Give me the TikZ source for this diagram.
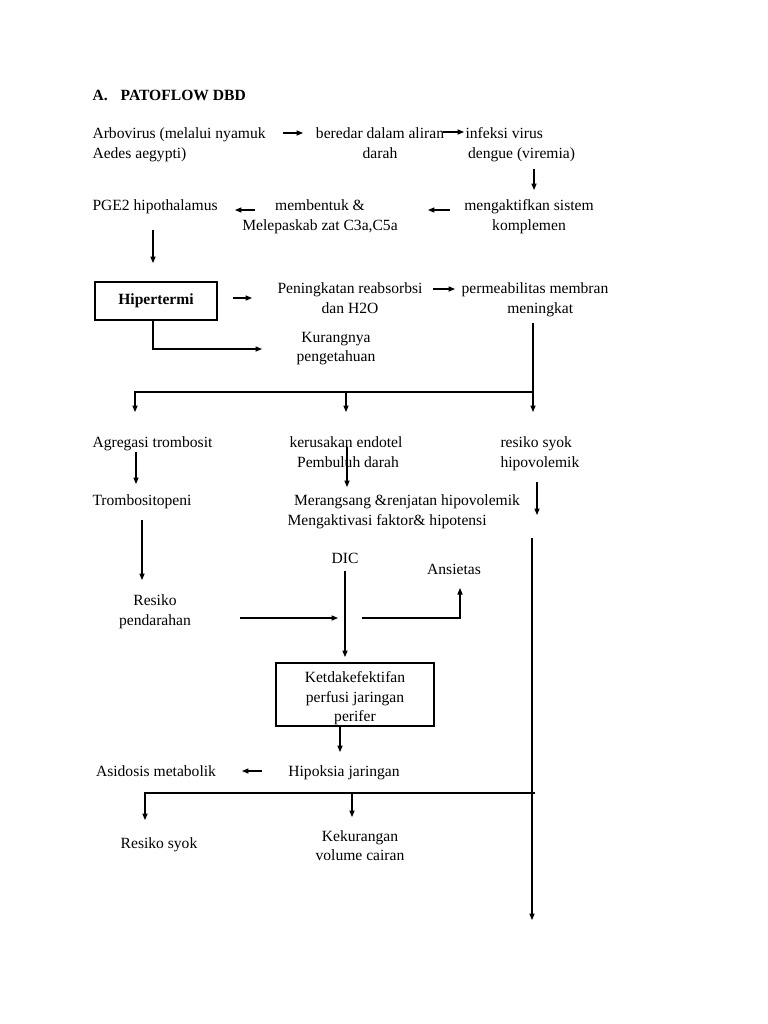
\documentclass[tikz,border=0pt]{standalone}
\usepackage{fontspec}
\setmainfont{Liberation Serif}
\usetikzlibrary{arrows,arrows.meta,calc}

\begin{document}
\begin{tikzpicture}[x=0.77pt,y=-0.77pt,>={Triangle[length=5pt,width=4pt]},line width=0.8pt,
  txt/.style={inner sep=0pt,font=\fontsize{12}{15}\selectfont,
    execute at begin node=\strut,execute at end node=\strut},
  boxthick/.style={txt,draw,line width=1.6pt,minimum width=94pt,minimum height=29.3pt}]
\fill[white] (0,0) rectangle (768,1024);
\useasboundingbox (0,0) rectangle (768,1024);

\node[txt,anchor=west,font=\fontsize{12}{15}\selectfont\bfseries] (title) at (92,97) {A.\hspace*{10pt}PATOFLOW DBD};

\node[txt,anchor=west,align=left] (arbo) at (92,146) {Arbovirus (melalui nyamuk\\Aedes aegypti)};
\node[txt,align=center] (beredar) at (380,146) {beredar dalam aliran\\darah};
\node[txt,anchor=west,align=left] (infeksi) at (465,146) {infeksi virus\\\hspace*{2pt}dengue (viremia)};

\node[txt,anchor=west] (pge) at (92,207) {PGE2 hipothalamus};
\node[txt,align=center] (membentuk) at (320,218) {membentuk \&\\Melepaskab zat C3a,C5a};
\node[txt,align=center] (kompl) at (529,218) {mengaktifkan sistem\\komplemen};

\node[boxthick,font=\fontsize{12}{15}\selectfont\bfseries] (hiper) at (156,301) {Hipertermi};
\node[txt,align=center] (penin) at (350,301) {Peningkatan reabsorbsi\\dan H2O};
\node[txt,align=center] (perm) at (535,301) {permeabilitas membran\\\hspace*{8pt}meningkat};
\node[txt,align=center] (kurang) at (336,350) {Kurangnya\\pengetahuan};

\node[txt,anchor=west] (agreg) at (92,444) {Agregasi trombosit};
\node[txt,align=center] (kerus) at (346,455) {kerusakan endotel\\\hspace*{3pt}Pembuluh darah};
\node[txt,anchor=west,align=left] (syok) at (500,455) {resiko syok\\hipovolemik};

\node[txt,anchor=west] (tromb) at (92,502) {Trombositopeni};
\node[txt,anchor=west,align=left] (meran) at (287,513) {\hspace*{5pt}Merangsang \&renjatan hipovolemik\\Mengaktivasi faktor\& hipotensi};

\node[txt] (dic) at (345,560) {DIC};
\node[txt] (ans) at (454,571) {Ansietas};
\node[txt,align=center] (resiko) at (155,613) {Resiko\\pendarahan};
\node[txt,align=center] (ket) at (355,699.5) {Ketdakefektifan\\perfusi jaringan\\perifer};
\draw[line width=1pt] ([shift={(-79,-36.5)}]ket.center) rectangle ([shift={(79,26.5)}]ket.center);

\node[txt] (asid) at (156,773) {Asidosis metabolik};
\node[txt] (hipok) at (344,773) {Hipoksia jaringan};
\node[txt] (kecil) at (159,845) {Resiko syok};
\node[txt,align=center] (kekur) at (360,848.5) {Kekurangan\\volume cairan};

% baris atas
\draw[->] ([shift={(191,-13)}]arbo.west) -- ++(20,0);
\draw[->] ([shift={(63,-14)}]beredar.center) -- ++(21,0);
\draw[->] ([shift={(69,23)}]infeksi.west) -- ++(0,21);
\draw[<-] ([shift={(143,3)}]pge.west) -- ++(20,0);
\draw[<-] ([shift={(108,-8)}]membentuk.center) -- ++(22,0);
\draw[->] ([shift={(61,23)}]pge.west) -- ++(0,33);

% hipertermi
\draw[->] ([shift={(77,-3)}]hiper.center) -- ++(19,0);
\draw[->] ([shift={(83,-12)}]penin.center) -- ++(22,0);
\draw[->] ([xshift=-2.3pt]hiper.south) |- ([shift={(-74,-1)}]kurang.center);

% percabangan
\coordinate (fork) at ([shift={(-2,91)}]perm.center);
\draw[->] ([shift={(-2,22)}]perm.center) -- ++(0,89);
\draw[->] (fork) -| ([shift={(43,-32)}]agreg.west);
\draw[->] (fork -| kerus.center) -- ++(0,20);

\draw[->] ([shift={(44,8)}]agreg.west) -- ++(0,32);
\draw[->] ([shift={(1,-8)}]kerus.center) -- ++(0,40);
\draw[->] ([shift={(37,27)}]syok.west) -- ++(0,33);
\draw[->] ([shift={(50,18)}]tromb.west) -- ++(0,60);

% garis panjang kanan
\coordinate (vtop) at ([shift={(32,83)}]syok.west);
\coordinate (fork2) at ([shift={(3,255)}]vtop);
\draw[->] (vtop) -- ++(0,382);

% DIC
\draw[->] ([shift={(85,5)}]resiko.center) -- ++(98,0);
\draw[->] ([shift={(0,11)}]dic.center) -- ++(0,86);
\draw[->] ([shift={(17,58)}]dic.center) -| ([shift={(6,17)}]ans.center);

% bawah
\draw[->] ([shift={(-15,26.5)}]ket.center) -- ++(0,26);
\draw[<-] ([shift={(86,-2)}]asid.center) -- ++(20,0);
\draw[->] (fork2) -| ([shift={(-14,-25)}]kecil.center);
\draw[->] (fork2 -| kekur.center) ++(-8,0) -- ++(0,24);
\end{tikzpicture}
\end{document}
